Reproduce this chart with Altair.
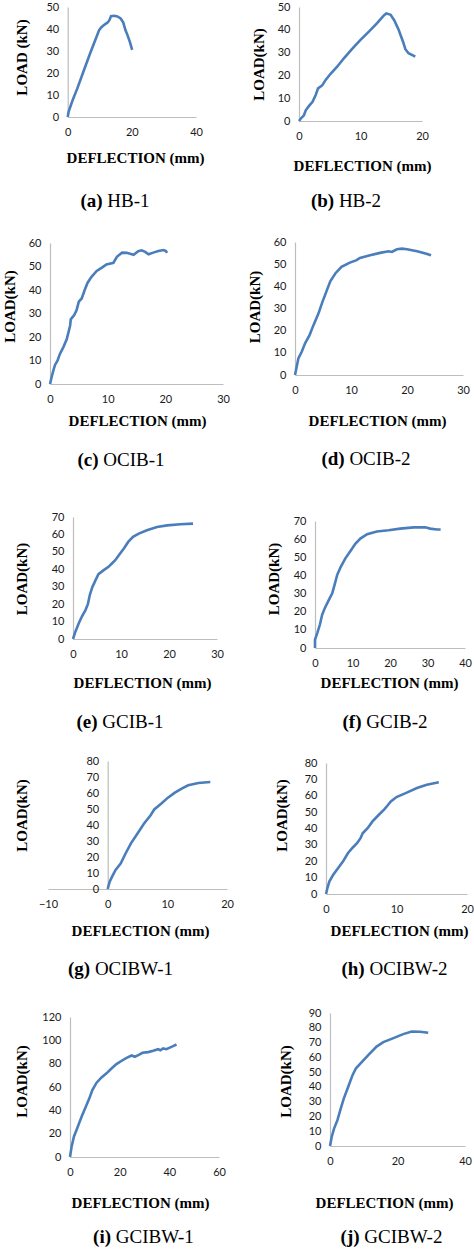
import altair as alt
import pandas as pd

# ---------------- data ----------------
a_x = [0, 0.3, 1.5, 3, 5, 7, 9, 9.8, 10.5, 11.5, 12.5, 13, 13.5, 14.5, 15.5, 16.5, 17.3, 18, 18.7, 19.4, 20.1]
a_y = [0, 2.5, 7.5, 13, 21, 29, 36.5, 39.5, 40.8, 42, 43, 44, 45.8, 46, 45.7, 44.8, 43, 39.5, 37, 34, 30.5]

b_x = [0, 0.27, 0.8, 1.1, 1.6, 2.2, 2.7, 3.1, 3.8, 4.3, 5.1, 6.2, 7.3, 8.6, 10, 11.4, 12.7, 13.8, 14.2, 14.9, 15.5, 16.2, 16.9, 17.3, 17.8, 18.6, 18.9]
b_y = [0, 1.0, 2.5, 4.7, 6.5, 8.4, 11.3, 14.3, 15.7, 17.9, 20.6, 23.8, 27.5, 31.5, 35.6, 39.3, 42.9, 46.3, 47.2, 46.6, 44.1, 40.0, 34.9, 31.5, 29.7, 28.7, 28.2]

c_x = [0, 0.3, 0.6, 0.87, 1.3, 1.7, 2.3, 2.9, 3.3, 3.5, 3.6, 4.2, 4.6, 5.0, 5.5, 6.0, 6.5, 7.2, 8.1, 9.0, 9.8, 11.0, 11.6, 12.5, 13.3, 14.5, 15.3, 15.9, 16.5, 17.1, 17.9, 18.8, 19.7, 20.1, 20.3]
c_y = [0, 3.1, 5.9, 8.1, 9.9, 12.7, 15.6, 19.0, 22.9, 25.0, 27.5, 29.3, 31.4, 35.0, 36.4, 39.9, 43.0, 45.6, 48.1, 49.5, 50.9, 51.6, 54.1, 55.9, 55.8, 55.0, 56.5, 56.9, 56.2, 55.2, 55.9, 56.6, 57.0, 56.6, 55.8]

d_x = [0, 0.3, 0.6, 1.2, 1.8, 2.6, 3.3, 4.2, 4.9, 5.7, 6.3, 7.2, 8.3, 9.8, 11.0, 11.6, 13.4, 15.2, 16.7, 17.3, 18.2, 19.1, 20.0, 21.8, 23.3, 24.3]
d_y = [0, 3.75, 7.5, 10.5, 14.3, 18, 22.5, 27.8, 33, 38.3, 42.3, 45.8, 48.8, 50.7, 51.8, 52.8, 54.0, 55.1, 55.8, 55.5, 56.7, 57.0, 56.7, 55.8, 54.8, 54.0]

e_x = [0, 0.5, 1.2, 1.9, 2.6, 3.1, 3.5, 4.0, 4.7, 5.3, 6.4, 7.4, 8.1, 8.8, 9.7, 10.6, 11.5, 12.5, 13.7, 15.4, 17.5, 19.6, 22.4, 25.0]
e_y = [0, 4.2, 9.0, 13.2, 16.6, 20.0, 25.2, 29.6, 33.8, 37.2, 39.5, 41.4, 43.3, 45.2, 48.6, 51.9, 55.7, 58.6, 60.5, 62.4, 64.3, 65.2, 65.8, 66.2]

f_x = [0, 0, 0.6, 1.3, 1.9, 2.6, 3.7, 4.6, 5.2, 5.9, 6.8, 8.1, 9.5, 10.8, 12.1, 13.9, 16.5, 19.6, 22.7, 26.3, 29.4, 30.7, 32.5, 33.5]
f_y = [0, 4.6, 8.2, 12.8, 18.3, 21.9, 26.5, 30.2, 34.7, 40.2, 44.4, 49.4, 53.6, 57.6, 60.3, 62.7, 64.2, 64.9, 65.8, 66.5, 66.5, 65.8, 65.3, 65.3]

g_x = [0, 0.34, 0.74, 1.3, 2.2, 3.0, 3.9, 5.0, 6.1, 7.2, 7.8, 9.0, 10.1, 11.2, 12.4, 13.5, 15.2, 17.2]
g_y = [0, 4.6, 7.7, 11.8, 16.0, 22.2, 28.5, 34.7, 40.9, 46.1, 49.7, 53.4, 57.1, 60.1, 62.8, 64.8, 66.3, 66.9]

h_x = [0, 0.19, 0.47, 1.0, 1.7, 2.4, 3.1, 3.8, 4.4, 4.9, 5.2, 5.9, 6.6, 7.5, 8.3, 8.7, 9.2, 10.0, 11.3, 12.9, 14.3, 16.0]
h_y = [0, 3.5, 7.6, 11.6, 15.7, 19.8, 24.9, 28.4, 31.0, 34.1, 37.1, 40.2, 44.3, 48.4, 51.8, 53.9, 56.5, 59.2, 61.6, 64.7, 66.7, 68.2]

i_x = [0, 0.67, 1.6, 2.9, 4.7, 6.4, 7.8, 9.0, 10.7, 12.7, 14.7, 16.7, 18.7, 20.8, 22.8, 24.8, 26.1, 27.5, 29.2, 31.5, 33.5, 35.5, 36.4, 37.5, 38.8, 40.2, 41.5, 42.9]
i_y = [0, 9.1, 17.6, 24.7, 34.7, 43.2, 50.3, 57.4, 63.7, 68.2, 71.7, 75.9, 79.6, 82.5, 85.0, 87.0, 85.9, 87.3, 89.3, 89.9, 91.0, 92.4, 91.5, 93.0, 92.4, 93.8, 95.0, 96.4]

j_x = [0, 0.5, 1.2, 2.2, 3.2, 4.1, 5.4, 6.7, 7.7, 9.4, 11.4, 13.8, 15.8, 18.8, 21.7, 24.2, 26.7, 29.1]
j_y = [0, 6.1, 11.8, 17.5, 25.4, 32.2, 40.1, 48.1, 52.6, 56.7, 61.7, 67.3, 70.3, 73.0, 75.7, 77.5, 77.3, 76.6]

# axis domains and tick values
x_domains = [[0, 40], [0, 20], [0, 30], [0, 30], [0, 30], [0, 40], [-10, 20], [0, 20], [0, 60], [0, 40]]
y_domains = [[0, 50], [0, 50], [0, 60], [0, 60], [0, 70], [0, 70], [0, 80], [0, 80], [0, 120], [0, 90]]
x_ticks = [[0, 20, 40], [0, 10, 20], [0, 10, 20, 30], [0, 10, 20, 30], [0, 10, 20, 30],
           [0, 10, 20, 30, 40], [-10, 0, 10, 20], [0, 10, 20], [0, 20, 40, 60], [0, 20, 40]]
y_ticks = [[0, 10, 20, 30, 40, 50], [0, 10, 20, 30, 40, 50], [0, 10, 20, 30, 40, 50, 60],
           [0, 10, 20, 30, 40, 50, 60], [0, 10, 20, 30, 40, 50, 60, 70], [0, 10, 20, 30, 40, 50, 60, 70],
           [0, 10, 20, 30, 40, 50, 60, 70, 80], [0, 10, 20, 30, 40, 50, 60, 70, 80],
           [0, 20, 40, 60, 80, 100, 120], [0, 10, 20, 30, 40, 50, 60, 70, 80, 90]]

# captions and axis titles
cap_tags = ["(a)", "(b)", "(c)", "(d)", "(e)", "(f)", "(g)", "(h)", "(i)", "(j)"]
cap_names = ["HB-1", "HB-2", "OCIB-1", "OCIB-2", "GCIB-1", "GCIB-2", "OCIBW-1", "OCIBW-2", "GCIBW-1", "GCIBW-2"]
x_titles = ["DEFLECTION  (mm)"] + ["DEFLECTION (mm)"] * 9
y_titles = ["LOAD (kN)"] + ["LOAD(kN)"] * 9

series = [(a_x, a_y), (b_x, b_y), (c_x, c_y), (d_x, d_y), (e_x, e_y),
          (f_x, f_y), (g_x, g_y), (h_x, h_y), (i_x, i_y), (j_x, j_y)]

# ---------------- layout (pixels in the 474 x 1250 page) ----------------
# plot left, plot right, plot top, plot bottom, x of the y axis line
frames = [
    (67.7, 196, 7, 117, 67.7),
    (299, 422, 7, 121, 299),
    (50, 223, 243, 384, 50),
    (295, 463, 242, 375, 295),
    (73, 217, 517, 639, 73),
    (315, 465, 521, 648, 315),
    (48, 227, 761, 889, 107.7),
    (326, 467, 763, 894, 326),
    (70, 219, 1017, 1157, 70),
    (330, 465, 1013, 1146, 330),
]
# y-title centre (x, y), x-title centre (x, y), caption centre (x, y)
ytitle_pos = [(22, 57), (258, 64), (9.5, 306), (254, 306.5), (21, 578.5), (273, 578.5),
              (21, 815), (281, 815), (21, 1081), (285, 1081)]
xtitle_pos = [(135, 157), (362, 165), (137, 420), (377, 420), (142, 682), (389, 682),
              (140, 930), (399, 930), (140, 1202), (384, 1202)]
cap_pos = [(115, 201), (346, 201), (121, 460), (366, 459), (120, 722), (385, 722),
           (121, 969), (395, 969), (144, 1237), (392, 1237)]

W, H = 474, 1250
LINE = "#4a7ebb"
SERIF = "Liberation Serif"
SANS = "Lato"
AXIS_GRAY = "#bdbdbd"
CAP_SIZE = 19

BOLD_W = {"(": .333, ")": .333, "a": .5, "b": .556, "c": .444, "d": .556, "e": .444,
          "f": .333, "g": .5, "h": .556, "i": .278, "j": .333}
REG_W = {"H": .722, "B": .667, "O": .722, "C": .667, "I": .333, "G": .722, "W": .944,
         "-": .333, "1": .5, "2": .5}


def text_w(s, table):
    return sum(table.get(ch, .5) for ch in s) * CAP_SIZE


layers = []
for k in range(10):
    xs, ys = series[k]
    x0, x1, yt, yb, yax = frames[k]
    df = pd.DataFrame({"x": xs, "y": ys, "i": list(range(len(xs)))})
    xaxis = alt.Axis(
        orient="bottom", offset=yb - H, values=x_ticks[k], grid=False, ticks=False,
        domainColor=AXIS_GRAY, domainWidth=1.2, labelFont=SANS, labelFontSize=11,
        labelColor="#1a1a1a", labelPadding=9, labelFlush=False,
        title=x_titles[k], titleFont=SERIF, titleFontSize=15, titleFontWeight="bold",
        titleColor="black", titleBaseline="middle",
        titleX=xtitle_pos[k][0], titleY=xtitle_pos[k][1] - yb,
    )
    yaxis = alt.Axis(
        orient="left", offset=-yax, values=y_ticks[k], grid=False, ticks=False,
        domainColor=AXIS_GRAY, domainWidth=1.2, labelFont=SANS, labelFontSize=11,
        labelColor="#1a1a1a", labelPadding=9, labelFlush=False,
        title=y_titles[k], titleFont=SERIF, titleFontSize=15, titleFontWeight="bold",
        titleColor="black", titleBaseline="middle", titleAngle=270,
        titleX=ytitle_pos[k][0] - yax, titleY=ytitle_pos[k][1],
    )
    line = alt.Chart(df).mark_line(color=LINE, strokeWidth=2.6).encode(
        x=alt.X("x:Q", scale=alt.Scale(domain=x_domains[k], range=[x0, x1], nice=False, zero=False),
                axis=xaxis),
        y=alt.Y("y:Q", scale=alt.Scale(domain=y_domains[k], range=[yb, yt], nice=False, zero=False),
                axis=yaxis),
        order="i:Q",
    )
    layers.append(line)

    tag, name = cap_tags[k], cap_names[k]
    bw, sp, rw = text_w(tag, BOLD_W), 0.25 * CAP_SIZE, text_w(name, REG_W)
    cx, cy = cap_pos[k]
    left = cx - (bw + sp + rw) / 2
    layers.append(alt.Chart(pd.DataFrame({"t": [tag]})).mark_text(
        font=SERIF, fontSize=CAP_SIZE, fontWeight="bold", align="left", baseline="middle", color="black"
    ).encode(text="t:N", x=alt.value(left), y=alt.value(cy)))
    layers.append(alt.Chart(pd.DataFrame({"t": [name]})).mark_text(
        font=SERIF, fontSize=CAP_SIZE, fontWeight="normal", align="left", baseline="middle", color="black"
    ).encode(text="t:N", x=alt.value(left + bw + sp), y=alt.value(cy)))

chart = alt.layer(*layers).resolve_scale(x="independent", y="independent").resolve_axis(
    x="independent", y="independent"
).properties(
    width=W, height=H, padding=0, background="white",
    autosize=alt.AutoSizeParams(type="none"),
).configure_view(stroke="transparent")

chart.save("out.html", embed_options={"renderer": "svg", "actions": False})
